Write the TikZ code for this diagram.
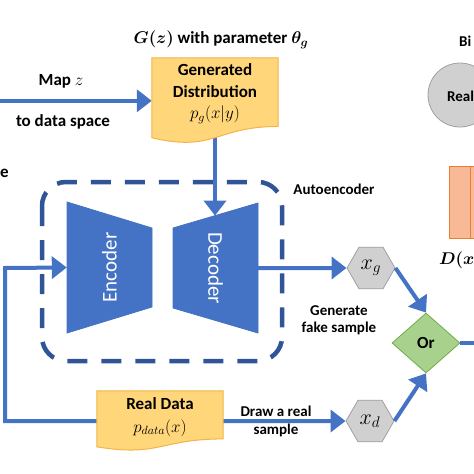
\documentclass[tikz,border=0pt]{standalone}
\usepackage{amsmath}
\usepackage{fix-cm}
\usepackage{fontspec}
\setmainfont{Carlito}
\usetikzlibrary{arrows.meta,shapes.geometric,calc}

\definecolor{myblue}{RGB}{68,114,196}
\definecolor{dashblue}{RGB}{47,85,151}
\definecolor{docfill}{RGB}{255,214,122}
\definecolor{docline}{RGB}{244,180,72}
\definecolor{grayfill}{RGB}{208,208,208}
\definecolor{grayline}{RGB}{160,160,160}
\definecolor{greenfill}{RGB}{169,209,142}
\definecolor{greenline}{RGB}{112,173,71}
\definecolor{orfill}{RGB}{248,185,150}
\definecolor{orline}{RGB}{237,125,49}

\newcommand{\mydoc}[3]{%
  \path[docsty] (#1.north west) -- (#1.north east) -- ($(#1.north east)+(0,{0.802*#3})$)
    .. controls ($(#1.north east)+({-0.5*#2},{0.802*#3})$) and ($(#1.north west)+({0.5*#2},{1.107*#3})$)
    .. ($(#1.north west)+(0,{0.934*#3})$) -- cycle;}

\begin{document}
\begin{tikzpicture}[x=1pt,y=-1pt,
  lbl/.style={font=\fontsize{17}{20}\selectfont\bfseries, inner sep=0pt},
  slbl/.style={font=\fontsize{15}{18}\selectfont\bfseries, inner sep=0pt},
  conn/.style={draw=myblue, line width=4pt},
  arr/.style={conn, -{Triangle[length=15pt,width=22pt]}},
  docsty/.style={fill=docfill, draw=docline, line width=1pt},
  placeholder/.style={inner sep=0pt, draw=none},
  hexsty/.style={regular polygon, regular polygon sides=6, minimum size=48pt, inner sep=0pt,
    fill=grayfill, draw=grayline, line width=0.8pt, font=\fontsize{22}{22}\selectfont},
  trap/.style={fill=myblue, draw=myblue, line width=0.8pt},
  coder/.style={text=white, font=\fontsize{21}{21}\selectfont, inner sep=0pt}
]
\useasboundingbox (0,0) rectangle (474,474);
\clip (0,0) rectangle (474,474);

% autoencoder dashed frame
\draw[draw=dashblue, line width=4.5pt, dash pattern=on 20pt off 14pt, rounded corners=24pt]
  (42,182) rectangle (282,361);

% placeholders
\node[placeholder, minimum width=126pt, minimum height=85.6pt] (gen) at (215,100.8) {};
\node[placeholder, minimum width=126pt, minimum height=60pt] (rd) at (160,421) {};
\node[placeholder, minimum width=85pt, minimum height=131pt] (enc) at (109.5,267.5) {};
\node[placeholder, minimum width=85pt, minimum height=130pt] (dec) at (215.5,268) {};
\coordinate (dectop) at (215,215.6);
\coordinate (mapstart) at (-3,100.8);
\coordinate (lc) at (5,268);
\coordinate (rend) at (480,343);

% hexagons and decision
\node[hexsty] (xg) at (371,268) {$x_g$};
\node[hexsty] (xd) at (370,421) {$x_d$};
\node[diamond, minimum width=68pt, minimum height=60pt, inner sep=0pt, fill=greenfill,
  draw=greenline, line width=0.8pt, font=\fontsize{17}{20}\selectfont\bfseries] (orn) at (426,343) {Or};

% connectors
\draw[arr] (mapstart) -- (gen.west);
\draw[arr] (gen.center) -- (gen.center |- dectop);
\draw[arr] (dec.east) -- (xg.west);
\draw[arr] (xg.east) -- (orn.north);
\draw[arr] (xd.east) -- (orn.south);
\draw[conn] (orn.east) -- (rend);
\draw[arr] (rd.west) -| (lc) -- (enc.west);
\draw[arr] (rd.east) -- (xd.west);

% documents
\mydoc{gen}{126}{85.6}
\mydoc{rd}{126}{60}

% encoder / decoder
\path[trap] (67,202) -- (152,228) -- (152,307) -- (67,333) -- cycle;
\path[trap] (173,228) -- (258,203) -- (258,333) -- (173,308) -- cycle;
\node[coder, rotate=90] (tenc) at (enc.center) {Encoder};
\node[coder, rotate=-90] (tdec) at (dec.center) {Decoder};

% texts
\node[lbl] (tmap) at (61,81) {Map $z$};
\node[lbl] (tspace) at (63,122) {to data space};
\node[lbl] (tg) at (221,40) {$\boldsymbol{G(z)}$ with parameter $\boldsymbol{\theta_g}$};
\node[lbl] (tgen1) at (215,70) {Generated};
\node[lbl] (tgen2) at (215,92) {Distribution};
\node[lbl] (tgen3) at (215,115) {$p_g(x|y)$};
\node[lbl] (trd1) at (160,404) {Real Data};
\node[lbl] (trd2) at (160,428) {$p_{data}(x)$};
\node[slbl] (tauto) at (334,189) {Autoencoder};
\node[slbl] (tfake1) at (339,311) {Generate};
\node[slbl] (tfake2) at (339,328) {fake sample};
\node[slbl] (treal1) at (276,411) {Draw a real};
\node[slbl] (treal2) at (276,430) {sample};
\node[lbl, anchor=east] (te) at (9,173) {e};

% right, cut-off part
\node[slbl, anchor=west] (tbi) at (459,41) {Bi};
\node[circle, minimum size=64pt, inner sep=0pt, fill=grayfill, draw=grayline, line width=0.8pt] (bc) at (460,95) {};
\node[slbl, anchor=west] (treal) at (447,96) {Real};
\path[fill=orfill, draw=orline, line width=0.8pt] (449,166) rectangle (470,238);
\path[fill=orfill, draw=orline, line width=0.8pt] (470,166) rectangle (490,238);
\node[lbl, anchor=west] (tdx) at (439,260) {$\boldsymbol{D(x)}$};
\end{tikzpicture}
\end{document}
